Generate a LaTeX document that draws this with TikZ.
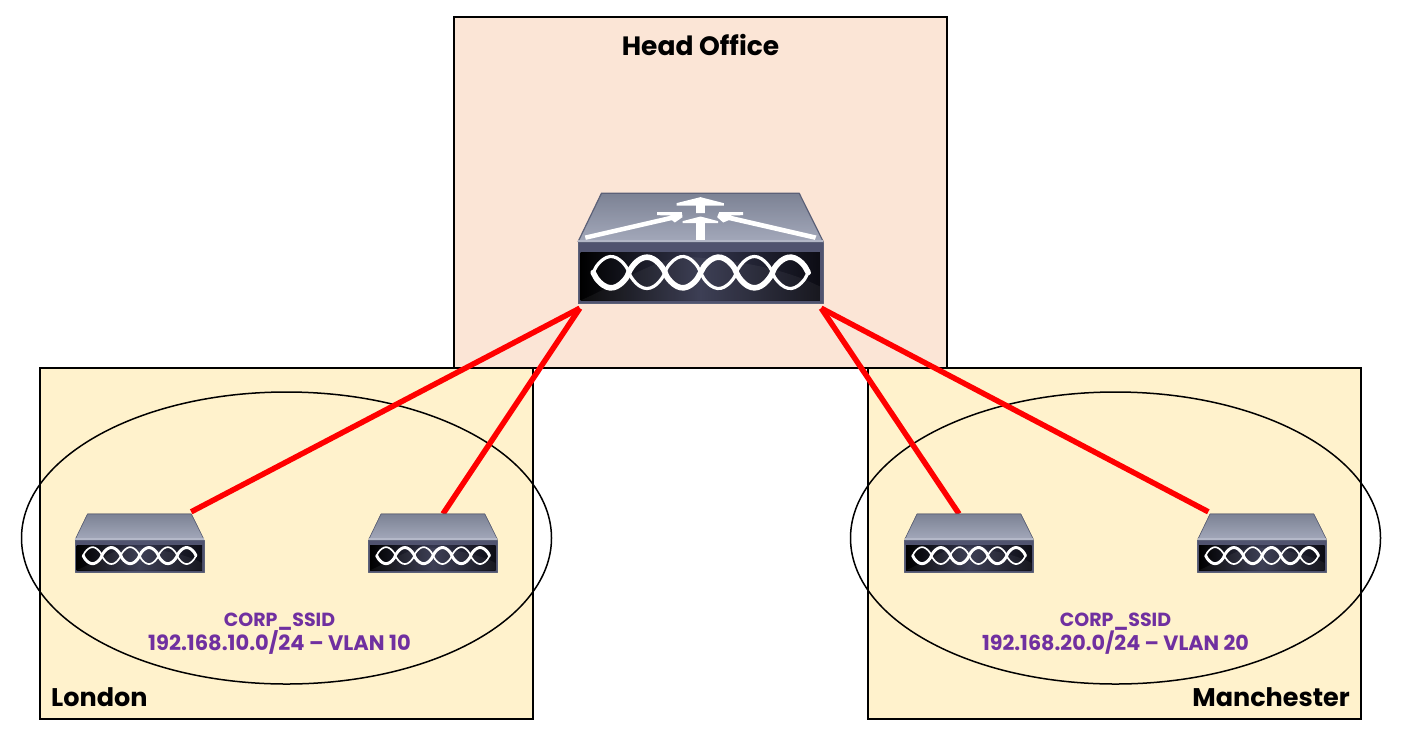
\documentclass[tikz,border=0pt]{standalone}
\usepackage{fontspec}
\setmainfont{Poppins}
\definecolor{hofill}{HTML}{FBE5D6}
\definecolor{sitefill}{HTML}{FFF2CC}
\definecolor{ssidpurple}{HTML}{7030A0}
\definecolor{devedge}{HTML}{5C6178}
\definecolor{devtop}{HTML}{7C8294}
\definecolor{devtopb}{HTML}{A3A8BA}
\definecolor{devlight}{HTML}{B4B8C8}
\definecolor{devfront}{HTML}{50536F}
\definecolor{devpanelm}{HTML}{33354C}
\definecolor{devpanelr}{HTML}{0C0C14}
\newcommand{\devart}[3]{% node, scale, arrows(1/0)
\begin{scope}[shift={(#1.center)},x=#2/3*1pt,y=-#2/3*1pt,shift={(-422,-206)}]
 \fill[draw=devedge,line width=#2*1.2pt,line join=round,top color=devtop,bottom color=devtopb] (125,40)--(718,40)--(790,185)--(55,185)--cycle;
 \fill[devlight] (55,180)--(790,180)--(790,190)--(55,190)--cycle;
 \fill[draw=devedge,line width=#2*1.2pt,line join=round,fill=devfront] (55,188)--(790,188)--(790,372)--(55,372)--cycle;
 \shade[left color=black,right color=devpanelr,middle color=devpanelm] (62,218) rectangle (780,362);
 \fill[white,opacity=.05] (62,362) .. controls (200,300) and (300,225) .. (400,232) .. controls (560,245) and (680,270) .. (780,320)--(780,362)--cycle;
 \draw[white,line width=#2*5.6pt,line cap=round,line join=round] plot[smooth,domain=0:645,samples=65] ({100+\x},{278+46*sign(sin(\x/107.5*180))*pow(abs(sin(\x/107.5*180))+0.001,0.75)});
 \draw[white,line width=#2*3.2pt,line cap=round,line join=round] plot[smooth,domain=0:645,samples=65] ({100+\x},{278-48*sign(sin(\x/107.5*180))*pow(abs(sin(\x/107.5*180))+0.001,0.75)});
 \ifnum#3=1
 \fill[white] (409,100)--(409,77)--(350,77)--(350,70)--(422,52)--(492,70)--(492,77)--(435,77)--(435,100)--cycle;
 \fill[white] (409,180)--(409,130)--(368,130)--(368,124)--(422,110)--(475,124)--(475,130)--(435,130)--(435,180)--cycle;
 \fill[white] (75,167)--(335,107)--(292,106)--(292,97)--(366,97)--(368,112)--(345,128)--(336,121)--(78,180)--cycle;
 \fill[white] (770,167)--(510,107)--(550,106)--(550,97)--(478,97)--(472,112)--(490,128)--(507,121)--(765,180)--cycle;
 \fi
\end{scope}}
\tikzset{
 sitebox/.style={draw=black,line width=2pt,minimum width=493pt,minimum height=351pt,anchor=north west,inner sep=0pt},
 ssidring/.style={draw=black,line width=1.5pt,ellipse,minimum width=530pt,minimum height=292pt,inner sep=0pt},
 bigdev/.style={minimum width=245pt,minimum height=111pt,inner sep=0pt},
 smalldev/.style={minimum width=129pt,minimum height=58pt,inner sep=0pt},
 wanlink/.style={draw=red,line width=5.5pt},
 sitelabel/.style={font=\bfseries\fontsize{25.5}{28}\selectfont,inner sep=0pt,text=black},
 ssidlabel/.style={font=\bfseries\fontsize{19}{24}\selectfont,text=ssidpurple,align=center,inner sep=0pt},
}
\usetikzlibrary{shapes.geometric}
\begin{document}
\begin{tikzpicture}[x=1pt,y=-1pt]
\useasboundingbox (0,0) rectangle (1415,745);
\node[sitebox,fill=hofill] (ho) at (453,16) {};
\node[sitebox,fill=sitefill] (lon) at (39,367) {};
\node[sitebox,fill=sitefill] (man) at (867,367) {};
\node[ssidring] (ringl) at (286.5,538) {};
\node[ssidring] (ringr) at (1115.5,538) {};
\node[sitelabel,font=\bfseries\fontsize{26.5}{28}\selectfont] (holabel) at (700.5,45) {Head Office};
\node[sitelabel,anchor=west] (lonlabel) at (51,697) {London};
\node[sitelabel,anchor=east] (manlabel) at (1350,697) {Manchester};
\node[ssidlabel] (ssidl) at (279.5,634) {CORP\_SSID\\{\fontsize{21}{24}\selectfont 192.168.10.0/24 – VLAN 10}};
\node[ssidlabel] (ssidr) at (1115.5,634) {CORP\_SSID\\{\fontsize{20.7}{24}\selectfont 192.168.20.0/24 – VLAN 20}};
\node[bigdev] (hq) at (700.5,248.5) {};
\node[smalldev] (lon1) at (139.5,543) {};
\node[smalldev] (lon2) at (433,543) {};
\node[smalldev] (man1) at (969,543) {};
\node[smalldev] (man2) at (1262,543) {};
\draw[wanlink] ([shift={(2pt,-4pt)}]hq.south west) -- ([shift={(-13pt,2pt)}]lon1.north east);
\draw[wanlink] ([shift={(2pt,-4pt)}]hq.south west) -- ([xshift=10pt]lon2.north);
\draw[wanlink] ([shift={(-2pt,-4pt)}]hq.south east) -- ([xshift=-10pt]man1.north);
\draw[wanlink] ([shift={(-2pt,-4pt)}]hq.south east) -- ([shift={(11pt,2pt)}]man2.north west);
\devart{hq}{1}{1}
\devart{lon1}{.525}{0}
\devart{lon2}{.525}{0}
\devart{man1}{.525}{0}
\devart{man2}{.525}{0}
\end{tikzpicture}
\end{document}
